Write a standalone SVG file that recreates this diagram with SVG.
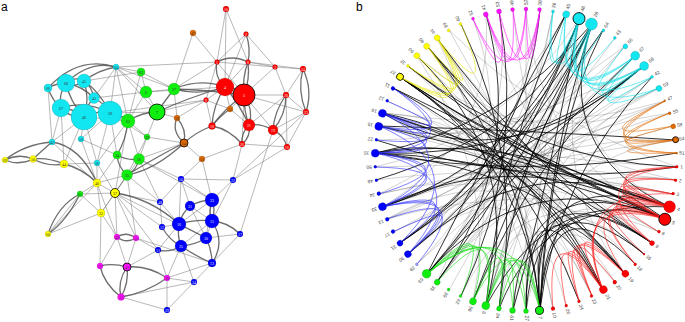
<svg xmlns="http://www.w3.org/2000/svg" width="685" height="322" viewBox="0 0 685 322">
<style>
.e path{fill:none;stroke:#7d7d7d;stroke-width:.55}
.t path{fill:none;stroke:#555;stroke-width:1.3;opacity:.85}
.k{fill:none;stroke:#000;stroke-width:1;opacity:.8}
.kl{fill:none;stroke:#000;stroke-width:.5;opacity:.35}
.q path{fill:none;stroke-width:.8;opacity:.75}
.cy{fill:#12e6f0}.gr{fill:#10ee10}.ye{fill:#ffff00}.mg{fill:#ff10ff}.or{fill:#e06a00}.rd{fill:#ff0000}.bl{fill:#0000ff}.lbl{fill:#9a9aff}
circle{stroke:#000;stroke-opacity:.3;stroke-width:.4}
.ol{stroke-opacity:1;stroke-width:.8}
.la{font-family:"Liberation Serif",serif;font-size:4px;fill:#333;text-anchor:middle;dominant-baseline:central}
.lw{fill:#eee}
.lb{font-family:"Liberation Sans",Arial,sans-serif;font-size:4.8px;fill:#444;dominant-baseline:central}
.pl{font-family:"Liberation Sans",Arial,sans-serif;font-size:12px;fill:#000}
</style>
<rect width="685" height="322" fill="#fff"/>
<text class="pl" x="1" y="11">a</text>
<text class="pl" x="356" y="11">b</text>

<g id="a-edges">
<g class="e">
<path d="M116,67L141,72"/><path d="M116,67L146,92"/><path d="M116,67L110,113"/><path d="M116,67L94,98"/><path d="M116,67L128,121"/><path d="M116,67L157,112"/><path d="M84,81L141,72"/><path d="M116,67L217,62"/><path d="M116,67L174,89"/><path d="M110,113L147,137"/><path d="M110,113L117,155"/><path d="M110,113L157,112"/><path d="M84,117L128,121"/><path d="M94,98L146,92"/><path d="M81,139L117,155"/><path d="M81,139L110,113"/><path d="M81,139L84,117"/><path d="M52,142L61,108"/><path d="M52,142L84,117"/><path d="M81,139L97,183"/><path d="M97,163L84,117"/><path d="M97,163L110,113"/><path d="M97,163L128,121"/><path d="M97,163L97,183"/><path d="M97,163L64,164"/><path d="M97,163L115,193"/><path d="M48,88L52,142"/><path d="M61,108L64,164"/><path d="M141,72L146,92"/><path d="M146,92L157,112"/><path d="M146,92L174,89"/><path d="M141,72L174,89"/><path d="M157,112L147,137"/><path d="M128,121L147,137"/><path d="M128,121L139,159"/><path d="M147,137L139,159"/><path d="M147,137L127,175"/><path d="M141,72L128,121"/><path d="M146,92L128,121"/><path d="M97,183L115,193"/><path d="M97,183L101,213"/><path d="M115,193L101,213"/><path d="M48,234L101,213"/><path d="M48,234L97,183"/><path d="M80,194L97,183"/><path d="M80,194L115,193"/><path d="M80,194L101,213"/><path d="M115,193L128,121"/><path d="M115,193L139,159"/><path d="M115,193L127,175"/><path d="M97,183L127,175"/><path d="M97,183L117,155"/><path d="M101,213L127,175"/><path d="M193,33L174,89"/><path d="M193,33L217,62"/><path d="M226,9L217,62"/><path d="M226,9L248,62"/><path d="M226,9L225,87"/><path d="M246,34L217,62"/><path d="M246,34L225,87"/><path d="M246,34L275,67"/><path d="M217,62L206,100"/><path d="M217,62L244,95"/><path d="M217,62L174,89"/><path d="M217,62L275,67"/><path d="M248,62L275,67"/><path d="M248,62L303,69"/><path d="M248,62L225,87"/><path d="M275,67L303,69"/><path d="M275,67L286,95"/><path d="M275,67L244,95"/><path d="M303,69L286,95"/><path d="M286,95L306,112"/><path d="M286,95L244,95"/><path d="M286,95L287,147"/><path d="M286,95L249,125"/><path d="M306,112L273,130"/><path d="M306,112L287,147"/><path d="M306,112L244,95"/><path d="M225,87L206,100"/><path d="M225,87L230,109"/><path d="M244,95L230,109"/><path d="M244,95L242,144"/><path d="M244,95L273,130"/><path d="M206,100L212,126"/><path d="M206,100L177,118"/><path d="M206,100L230,109"/><path d="M230,109L249,125"/><path d="M242,144L287,147"/><path d="M174,89L177,118"/><path d="M157,112L177,118"/><path d="M157,112L206,100"/><path d="M146,92L225,87"/><path d="M110,113L206,100"/><path d="M184,143L202,159"/><path d="M184,143L139,159"/><path d="M184,143L147,137"/><path d="M202,159L181,179"/><path d="M202,159L212,200"/><path d="M202,159L242,144"/><path d="M242,144L233,180"/><path d="M287,147L233,180"/><path d="M306,112L233,180"/><path d="M273,130L240,234"/><path d="M233,180L212,221"/><path d="M233,180L212,200"/><path d="M233,180L181,179"/><path d="M181,179L190,206"/><path d="M181,179L160,202"/><path d="M181,179L212,200"/><path d="M181,179L179,224"/><path d="M160,202L179,224"/><path d="M160,202L162,227"/><path d="M162,227L179,224"/><path d="M158,250L179,224"/><path d="M190,206L212,221"/><path d="M190,206L206,238"/><path d="M212,200L179,224"/><path d="M212,200L206,238"/><path d="M212,221L206,238"/><path d="M212,221L181,246"/><path d="M206,238L240,234"/><path d="M212,263L240,234"/><path d="M212,263L194,282"/><path d="M194,282L181,246"/><path d="M194,282L167,310"/><path d="M167,310L121,297"/><path d="M167,310L167,278"/><path d="M167,278L194,282"/><path d="M167,278L158,250"/><path d="M167,278L181,246"/><path d="M167,278L212,263"/><path d="M160,202L115,193"/><path d="M160,202L127,175"/><path d="M162,227L115,193"/><path d="M160,202L139,159"/><path d="M181,179L139,159"/><path d="M115,193L158,250"/><path d="M115,193L206,238"/><path d="M117,237L115,193"/><path d="M136,238L115,193"/><path d="M117,237L97,183"/><path d="M136,238L158,250"/><path d="M136,238L127,175"/><path d="M100,266L101,213"/><path d="M100,266L117,237"/><path d="M117,237L127,267"/><path d="M136,238L127,267"/><path d="M127,267L158,250"/><path d="M101,213L117,237"/><path d="M52,142L97,183"/><path d="M64,164L84,117"/><path d="M136,238L212,263"/><path d="M121,297L194,282"/><path d="M139,159L212,200"/><path d="M48,234L80,194"/>
</g>
<g class="t">
<path d="M66,83Q75,76 84,81"/><path d="M66,83Q75,88 84,81"/><path d="M66,83Q82,86 94,98"/><path d="M66,83Q58,95 61,108"/><path d="M66,83Q70,102 84,117"/><path d="M84,81Q92,87 94,98"/><path d="M84,81Q90,99 84,117"/><path d="M84,81Q100,92 110,113"/><path d="M94,98Q86,106 84,117"/><path d="M94,98Q104,103 110,113"/><path d="M61,108Q72,108 84,117"/><path d="M61,108Q70,118 84,117"/><path d="M84,117Q97,110 110,113"/><path d="M48,88Q57,83 66,83"/><path d="M48,88Q52,100 61,108"/><path d="M48,88Q78,55 116,67"/><path d="M66,83Q90,60 116,67"/><path d="M61,108Q85,100 110,113"/><path d="M116,67Q98,70 84,81"/><path d="M110,113Q120,114 128,121"/>
<path d="M157,112Q168,97 174,89"/><path d="M128,121Q142,112 157,112"/><path d="M174,89Q200,78 225,87"/><path d="M174,89Q200,96 225,87"/><path d="M174,89Q210,90 244,95"/><path d="M157,112Q190,97 225,87"/><path d="M117,155Q128,161 139,159"/><path d="M117,155Q118,167 127,175"/><path d="M139,159Q137,170 127,175"/><path d="M128,121Q126,140 117,155"/>
<path d="M5,160Q19,153 33,159"/><path d="M5,160Q19,166 33,159"/><path d="M5,160Q25,144 52,142"/><path d="M33,159Q48,157 64,164"/><path d="M33,159Q48,167 64,164"/><path d="M64,164Q82,168 97,183"/><path d="M52,142Q80,146 97,183"/><path d="M80,194Q58,205 48,234"/><path d="M80,194Q66,222 48,234"/><path d="M33,159Q45,148 52,142"/>
<path d="M117,237Q126,231 136,238"/><path d="M117,237Q126,244 136,238"/><path d="M100,266Q113,263 127,267"/><path d="M127,267Q117,282 121,297"/><path d="M127,267Q129,283 121,297"/><path d="M127,267Q148,265 167,278"/><path d="M121,297Q146,293 167,278"/><path d="M100,266Q104,284 121,297"/>
<path d="M190,206Q182,213 179,224"/><path d="M212,200Q216,210 212,221"/><path d="M212,200Q208,211 212,221"/><path d="M179,224Q177,236 181,246"/><path d="M179,224Q196,219 212,221"/><path d="M181,246Q195,245 206,238"/><path d="M212,221Q226,243 212,263"/><path d="M206,238Q212,250 212,263"/><path d="M240,234Q228,222 212,221"/><path d="M190,206Q201,200 212,200"/><path d="M162,227Q169,240 181,246"/><path d="M158,250Q170,253 181,246"/><path d="M115,193Q150,198 179,224"/><path d="M181,246Q197,257 212,263"/><path d="M179,224Q195,232 206,238"/>
<path d="M225,87Q235,87 244,95"/><path d="M248,62Q250,80 244,95"/><path d="M248,62Q242,78 244,95"/><path d="M246,34Q251,48 248,62"/><path d="M217,62Q214,77 225,87"/><path d="M217,62Q232,54 248,62"/><path d="M244,95Q254,110 249,125"/><path d="M244,95Q244,112 249,125"/><path d="M249,125Q251,137 242,144"/><path d="M249,125Q241,133 242,144"/><path d="M249,125Q261,123 273,130"/><path d="M273,130Q284,135 287,147"/><path d="M286,95Q274,112 273,130"/><path d="M286,95Q286,115 273,130"/><path d="M303,69Q297,90 306,112"/><path d="M303,69Q313,90 306,112"/><path d="M225,87Q213,105 212,126"/><path d="M244,95Q225,108 212,126"/><path d="M212,126Q229,129 242,144"/><path d="M225,87Q240,105 249,125"/><path d="M230,109Q220,116 212,126"/>
<path d="M177,118Q171,131 184,143"/><path d="M177,118Q187,129 184,143"/><path d="M184,143Q160,155 127,175"/><path d="M184,143Q155,170 127,175"/><path d="M212,126Q196,132 184,143"/>
</g>
</g>

<g id="a-nodes">
<g id="a64"><circle class="cy" cx="116" cy="67" r="3"/><text class="la" x="116" y="67">64</text></g>
<g id="a68"><circle class="cy" cx="66" cy="83" r="9"/><text class="la" x="66" y="83">68</text></g>
<g id="a45"><circle class="cy" cx="84" cy="81" r="7"/><text class="la" x="84" y="81">45</text></g>
<g id="a66"><circle class="cy" cx="48" cy="88" r="4"/><text class="la" x="48" y="88">66</text></g>
<g id="a43"><circle class="cy" cx="94" cy="98" r="5.5"/><text class="la" x="94" y="98">43</text></g>
<g id="a67"><circle class="cy" cx="61" cy="108" r="9"/><text class="la" x="61" y="108">67</text></g>
<g id="a46"><circle class="cy" cx="84" cy="117" r="13"/><text class="la" x="84" y="117">46</text></g>
<g id="a28"><circle class="cy" cx="110" cy="113" r="12"/><text class="la" x="110" y="113">28</text></g>
<g id="a59"><circle class="cy" cx="81" cy="139" r="3"/><text class="la" x="81" y="139">59</text></g>
<g id="a42"><circle class="cy" cx="52" cy="142" r="3"/><text class="la" x="52" y="142">42</text></g>
<g id="a36"><circle class="cy" cx="97" cy="163" r="3"/><text class="la" x="97" y="163">36</text></g>
<g id="a62"><circle class="gr" cx="141" cy="72" r="4"/><text class="la" x="141" y="72">62</text></g>
<g id="a6"><circle class="gr" cx="146" cy="92" r="6"/><text class="la" x="146" y="92">6</text></g>
<g id="a7"><circle class="gr ol" cx="157" cy="112" r="8"/><text class="la" x="157" y="112">7</text></g>
<g id="a63"><circle class="gr" cx="128" cy="121" r="7"/><text class="la" x="128" y="121">63</text></g>
<g id="a39"><circle class="gr" cx="147" cy="137" r="3"/><text class="la" x="147" y="137">39</text></g>
<g id="a34"><circle class="gr" cx="117" cy="155" r="4"/><text class="la" x="117" y="155">34</text></g>
<g id="a56"><circle class="gr" cx="139" cy="159" r="5.5"/><text class="la" x="139" y="159">56</text></g>
<g id="a35"><circle class="gr" cx="127" cy="175" r="5.5"/><text class="la" x="127" y="175">35</text></g>
<g id="a61"><circle class="gr" cx="80" cy="194" r="3"/><text class="la" x="80" y="194">61</text></g>
<g id="a27"><circle class="gr" cx="174" cy="89" r="6"/><text class="la" x="174" y="89">27</text></g>
<g id="a69"><circle class="ye" cx="5" cy="160" r="3"/><text class="la" x="5" y="160">69</text></g>
<g id="a50"><circle class="ye" cx="33" cy="159" r="3.5"/><text class="la" x="33" y="159">50</text></g>
<g id="a44"><circle class="ye" cx="64" cy="164" r="4"/><text class="la" x="64" y="164">44</text></g>
<g id="a40"><circle class="ye" cx="97" cy="183" r="4"/><text class="la" x="97" y="183">40</text></g>
<g id="a37"><circle class="ye ol" cx="115" cy="193" r="4.5"/><text class="la" x="115" y="193">37</text></g>
<g id="a32"><circle class="ye" cx="101" cy="213" r="4"/><text class="la" x="101" y="213">32</text></g>
<g id="a60"><circle class="ye" cx="48" cy="234" r="3"/><text class="la" x="48" y="234">60</text></g>
<g id="a49"><circle class="mg" cx="117" cy="237" r="3"/><text class="la" x="117" y="237">49</text></g>
<g id="a52"><circle class="mg" cx="136" cy="238" r="3"/><text class="la" x="136" y="238">52</text></g>
<g id="a57"><circle class="mg" cx="100" cy="266" r="3"/><text class="la" x="100" y="266">57</text></g>
<g id="a41"><circle class="mg ol" cx="127" cy="267" r="4"/><text class="la" x="127" y="267">41</text></g>
<g id="a38"><circle class="mg" cx="167" cy="278" r="3"/><text class="la" x="167" y="278">38</text></g>
<g id="a53"><circle class="mg" cx="121" cy="297" r="3.5"/><text class="la" x="121" y="297">53</text></g>
<g id="a47"><circle class="or" cx="193" cy="33" r="3"/><text class="la" x="193" y="33">47</text></g>
<g id="a55"><circle class="or" cx="230" cy="109" r="3"/><text class="la" x="230" y="109">55</text></g>
<g id="a58"><circle class="or" cx="177" cy="118" r="3"/><text class="la" x="177" y="118">58</text></g>
<g id="a54"><circle class="or ol" cx="184" cy="143" r="4"/><text class="la" x="184" y="143">54</text></g>
<g id="a51"><circle class="or" cx="202" cy="159" r="3"/><text class="la" x="202" y="159">51</text></g>
<g id="a10"><circle class="rd" cx="226" cy="9" r="3"/><text class="la lw" x="226" y="9">10</text></g>
<g id="a2"><circle class="rd" cx="246" cy="34" r="2.5"/><text class="la lw" x="246" y="34">2</text></g>
<g id="a1"><circle class="rd" cx="217" cy="62" r="2.5"/><text class="la lw" x="217" y="62">1</text></g>
<g id="a8"><circle class="rd" cx="248" cy="62" r="2.5"/><text class="la lw" x="248" y="62">8</text></g>
<g id="a3"><circle class="rd" cx="275" cy="67" r="2.5"/><text class="la lw" x="275" y="67">3</text></g>
<g id="a24"><circle class="rd" cx="303" cy="69" r="3"/><text class="la lw" x="303" y="69">24</text></g>
<g id="a4"><circle class="rd" cx="225" cy="87" r="9"/><text class="la lw" x="225" y="87">4</text></g>
<g id="a5"><circle class="rd ol" cx="244" cy="95" r="11"/><text class="la lw" x="244" y="95">5</text></g>
<g id="a20"><circle class="rd" cx="286" cy="95" r="3"/><text class="la lw" x="286" y="95">20</text></g>
<g id="a9"><circle class="rd" cx="206" cy="100" r="2.5"/><text class="la lw" x="206" y="100">9</text></g>
<g id="a23"><circle class="rd" cx="306" cy="112" r="3"/><text class="la lw" x="306" y="112">23</text></g>
<g id="a18"><circle class="rd" cx="212" cy="126" r="3.5"/><text class="la lw" x="212" y="126">18</text></g>
<g id="a21"><circle class="rd" cx="249" cy="125" r="6"/><text class="la lw" x="249" y="125">21</text></g>
<g id="a19"><circle class="rd" cx="273" cy="130" r="5"/><text class="la lw" x="273" y="130">19</text></g>
<g id="a26"><circle class="rd" cx="242" cy="144" r="3"/><text class="la lw" x="242" y="144">26</text></g>
<g id="a16r"><circle class="rd" cx="287" cy="147" r="3"/><text class="la lw" x="287" y="147">16</text></g>
<g id="a48"><circle class="bl" cx="160" cy="202" r="3"/><text class="la lw" x="160" y="202">48</text></g>
<g id="a12"><circle class="bl" cx="162" cy="227" r="3"/><text class="la lw" x="162" y="227">12</text></g>
<g id="a11"><circle class="bl" cx="158" cy="250" r="3"/><text class="la lw" x="158" y="250">11</text></g>
<g id="a50b"><circle class="bl" cx="181" cy="179" r="3"/><text class="la lw" x="181" y="179">50</text></g>
<g id="a22"><circle class="bl" cx="233" cy="180" r="3"/><text class="la lw" x="233" y="180">22</text></g>
<g id="a31"><circle class="bl" cx="190" cy="206" r="5"/><text class="la lw" x="190" y="206">31</text></g>
<g id="a33"><circle class="bl" cx="212" cy="200" r="7"/><text class="la lw" x="212" y="200">33</text></g>
<g id="a16"><circle class="bl" cx="179" cy="224" r="7"/><text class="la lw" x="179" y="224">16</text></g>
<g id="a15"><circle class="bl" cx="212" cy="221" r="7"/><text class="la lw" x="212" y="221">15</text></g>
<g id="a30"><circle class="bl" cx="206" cy="238" r="6"/><text class="la lw" x="206" y="238">30</text></g>
<g id="a17"><circle class="bl" cx="240" cy="234" r="3"/><text class="la lw" x="240" y="234">17</text></g>
<g id="a35b"><circle class="bl" cx="181" cy="246" r="6"/><text class="la lw" x="181" y="246">35</text></g>
<g id="a13"><circle class="bl" cx="212" cy="263" r="4"/><text class="la lw" x="212" y="263">13</text></g>
<g id="a34b"><circle class="bl" cx="194" cy="282" r="3"/><text class="la lw" x="194" y="282">34</text></g>
<g id="a29"><circle class="bl" cx="167" cy="310" r="3"/><text class="la lw" x="167" y="310">29</text></g>
</g>

<g id="b-edges">
<path class="k" d="M579,19Q526,160 382,207"/><path class="k" d="M579,19Q526,160 427,274"/><path class="k" d="M592,24Q526,160 437,282"/><path class="k" d="M592,24Q500,130 375,153"/><path class="k" d="M592,24Q545,170 540,310"/><path class="kl" d="M579,19Q560,150 670,207"/><path class="k" d="M635,56Q526,160 427,274"/><path class="k" d="M644,66Q505,185 382,113"/><path class="kl" d="M635,56Q526,160 400,243"/><path class="k" d="M566,14Q500,150 486,306"/><path class="kl" d="M553,11Q526,160 408,254"/><path class="k" d="M603,30Q510,150 499,309"/><path class="kl" d="M615,38Q526,160 427,274"/><path class="kl" d="M625,46Q526,160 379,126"/><path class="kl" d="M652,77Q526,160 417,264"/><path class="kl" d="M659,88Q526,160 437,282"/><path class="k" d="M592,24Q550,150 670,207"/><path class="kl" d="M592,24Q540,170 625,274"/><path class="kl" d="M579,19Q526,160 486,306"/><path class="k" d="M644,66Q526,160 382,207"/>
<path class="k" d="M670,207Q526,160 400,77"/><path class="k" d="M665,219Q526,160 408,66"/><path class="k" d="M665,219Q540,130 375,153"/><path class="k" d="M670,207Q526,160 379,126"/><path class="k" d="M670,207Q526,160 540,310"/><path class="k" d="M665,219Q526,160 427,274"/><path class="k" d="M625,274Q526,160 540,310"/><path class="k" d="M603,290Q526,160 526,311"/><path class="k" d="M603,290Q526,140 382,113"/><path class="k" d="M652,243Q526,160 427,46"/><path class="kl" d="M644,254Q526,160 540,310"/><path class="kl" d="M635,264Q526,140 382,207"/><path class="k" d="M625,274Q526,160 393,88"/><path class="k" d="M677,167Q526,190 376,140"/><path class="kl" d="M676,180Q526,160 375,167"/><path class="kl" d="M673,194Q526,160 379,194"/><path class="kl" d="M659,232Q526,160 437,38"/><path class="kl" d="M592,296Q526,160 513,310"/><path class="k" d="M579,301Q526,160 400,77"/><path class="kl" d="M553,309Q526,160 486,306"/><path class="kl" d="M566,306Q526,140 408,254"/><path class="kl" d="M615,282Q526,140 387,219"/>
<path class="k" d="M676,140Q526,130 379,126"/><path class="kl" d="M673,126Q526,160 437,282"/><path class="kl" d="M670,113Q526,160 382,207"/><path class="kl" d="M665,101Q526,160 408,66"/><path class="k" d="M677,153Q526,180 375,153"/><path class="kl" d="M676,140Q526,160 540,310"/>
<path class="k" d="M540,310Q526,160 400,77"/><path class="k" d="M540,310Q526,160 427,46"/><path class="kl" d="M540,310Q526,160 437,38"/><path class="k" d="M486,306Q526,160 417,56"/><path class="k" d="M473,301Q526,160 592,24"/><path class="kl" d="M499,309Q526,160 635,56"/><path class="kl" d="M437,282Q526,160 676,180"/><path class="k" d="M513,310Q526,160 665,219"/><path class="k" d="M526,311Q526,160 652,243"/><path class="kl" d="M461,296Q526,160 408,66"/><path class="kl" d="M449,290Q526,160 553,11"/>
<path class="k" d="M382,207Q526,140 665,219"/><path class="k" d="M382,113Q526,160 652,243"/><path class="k" d="M408,254Q526,140 670,207"/><path class="k" d="M400,243Q526,160 592,24"/><path class="kl" d="M379,194Q526,160 676,140"/><path class="kl" d="M387,101Q526,160 625,274"/><path class="kl" d="M393,88Q526,160 553,309"/><path class="kl" d="M387,219Q526,160 652,77"/><path class="k" d="M375,153Q526,160 644,66"/><path class="kl" d="M376,180Q526,160 673,194"/><path class="kl" d="M393,232Q526,160 665,101"/>
<path class="k" d="M400,77Q526,160 665,219"/><path class="k" d="M400,77Q526,160 603,290"/><path class="k" d="M427,46Q526,160 625,274"/><path class="k" d="M437,38Q526,160 644,254"/><path class="kl" d="M417,56Q526,160 592,296"/><path class="k" d="M408,66Q526,160 677,167"/><path class="kl" d="M449,30Q526,160 579,301"/><path class="k" d="M461,24Q526,160 499,309"/><path class="kl" d="M427,46Q526,160 486,306"/>
<path class="k" d="M486,14Q526,160 437,282"/><path class="k" d="M499,11Q526,160 461,296"/><path class="kl" d="M526,9Q526,160 526,311"/><path class="k" d="M540,10Q526,160 400,243"/><path class="kl" d="M513,10Q526,160 603,290"/><path class="kl" d="M473,19Q526,160 417,264"/><path class="kl" d="M486,14Q526,160 652,243"/>
<path class="k" d="M382,113Q526,160 670,207"/><path class="k" d="M375,153Q526,160 665,219"/><path class="kl" d="M379,126Q526,160 677,167"/><path class="kl" d="M400,243Q526,160 644,66"/><path class="k" d="M408,254Q526,160 579,19"/><path class="kl" d="M382,207Q526,160 592,24"/><path class="kl" d="M427,274Q526,160 603,30"/><path class="kl" d="M437,282Q526,160 644,66"/><path class="kl" d="M540,310Q540,120 382,113"/><path class="kl" d="M540,310Q526,160 579,19"/><path class="kl" d="M486,306Q526,160 592,24"/><path class="kl" d="M400,77Q526,160 670,207"/><path class="kl" d="M437,38Q526,160 603,290"/>
<path class="kl" d="M579,19Q500,140 375,167"/><path class="k" d="M579,19Q550,180 513,310"/><path class="k" d="M592,24Q500,170 400,243"/><path class="kl" d="M592,24Q520,175 387,219"/><path class="k" d="M579,19Q540,130 376,180"/><path class="kl" d="M635,56Q505,185 393,232"/><path class="kl" d="M644,66Q500,140 376,140"/><path class="kl" d="M625,46Q526,160 486,306"/><path class="kl" d="M566,14Q495,140 379,194"/><path class="kl" d="M670,207Q505,185 387,219"/><path class="k" d="M665,219Q500,140 393,88"/><path class="k" d="M665,219Q555,180 486,306"/><path class="k" d="M670,207Q540,200 499,309"/><path class="k" d="M603,290Q526,120 375,153"/><path class="kl" d="M603,290Q510,150 400,77"/><path class="kl" d="M625,274Q505,140 379,126"/><path class="kl" d="M652,243Q526,130 408,254"/><path class="kl" d="M659,232Q520,170 461,296"/><path class="kl" d="M676,180Q530,150 417,56"/><path class="kl" d="M677,167Q540,120 449,30"/><path class="k" d="M540,310Q550,135 603,30"/><path class="k" d="M540,310Q555,180 652,77"/><path class="k" d="M427,274Q495,140 566,14"/><path class="kl" d="M437,282Q500,130 625,46"/><path class="kl" d="M486,306Q550,135 659,88"/><path class="k" d="M473,301Q540,140 644,66"/><path class="kl" d="M382,113Q550,135 665,101"/><path class="kl" d="M379,126Q555,180 673,194"/><path class="k" d="M375,153Q550,170 625,274"/><path class="kl" d="M382,207Q555,135 676,140"/><path class="kl" d="M400,243Q540,130 670,113"/><path class="kl" d="M408,254Q550,135 659,88"/><path class="kl" d="M400,77Q555,180 652,243"/><path class="kl" d="M427,46Q540,200 615,282"/><path class="kl" d="M437,38Q505,185 540,310"/><path class="kl" d="M417,56Q500,180 473,301"/><path class="kl" d="M486,14Q495,140 382,207"/><path class="kl" d="M499,11Q520,150 408,254"/><path class="kl" d="M540,10Q505,185 427,274"/><path class="kl" d="M526,9Q540,160 665,219"/>
<path class="k" d="M540,310Q545,165 652,243"/><path class="k" d="M540,310Q548,175 635,264"/><path class="k" d="M526,311Q540,170 644,254"/><path class="kl" d="M513,310Q545,160 659,232"/><path class="kl" d="M526,311Q550,180 625,274"/>
<g class="q" stroke="#12e0ea">
<path d="M579,19Q546.8,111.6 592,24"/><path d="M579,19Q554.3,117.1 635,56"/><path d="M579,19Q555.9,118.9 644,66"/><path d="M592,24Q556.6,118 635,56"/><path d="M592,24Q558.2,119.8 644,66"/><path d="M566,14Q542.3,109.8 579,19"/><path d="M566,14Q553.6,118 644,66"/><path d="M553,11Q542.3,110.2 592,24"/><path d="M635,56Q565.7,125.4 644,66"/><path d="M625,46Q564,123.6 644,66"/><path d="M615,38Q550.8,114 579,19"/><path d="M603,30Q551,113.5 592,24"/><path d="M652,77Q557.3,120.8 579,19"/><path d="M659,88Q560.8,123.6 592,24"/><path d="M659,88Q568.3,129.2 635,56"/><path d="M652,77Q568.7,129 644,66"/><path d="M566,14Q552.1,116.3 635,56"/><path d="M553,11Q540,109.3 579,19"/>
</g>
<g class="q" stroke="#e06a00">
<path d="M665,101Q576.5,146.2 676,140"/><path d="M665,101Q576,143.7 673,126"/><path d="M665,101Q576.7,148.5 677,153"/><path d="M670,113Q577.4,148.3 676,140"/><path d="M673,126Q577.9,150.6 676,140"/><path d="M676,140Q578.6,155.3 677,153"/><path d="M670,113Q577.6,150.6 677,153"/>
</g>
<g class="q" stroke="#ff1a1a">
<path d="M677,167Q577.6,169.4 670,207"/><path d="M677,167Q576.7,171.5 665,219"/><path d="M676,180Q577.4,171.7 670,207"/><path d="M676,180Q576.5,173.8 665,219"/><path d="M673,194Q576,176.3 665,219"/><path d="M673,194Q576.9,174.2 670,207"/><path d="M670,207Q575.5,178.5 665,219"/><path d="M670,207Q573.2,182.7 652,243"/><path d="M665,219Q572.3,184.8 652,243"/><path d="M670,207Q564.7,191 603,290"/><path d="M665,219Q563.8,193.1 603,290"/><path d="M665,219Q567.6,190.3 625,274"/><path d="M670,207Q570.2,186.4 635,264"/><path d="M603,290Q556.8,202.7 625,274"/><path d="M603,290Q548.7,207.4 579,301"/><path d="M603,290Q546.5,208.3 566,306"/><path d="M603,290Q544.2,208.8 553,309"/><path d="M625,274Q554.9,203.7 592,296"/><path d="M625,274Q552.6,204.6 579,301"/><path d="M615,282Q553.1,205.1 592,296"/><path d="M603,290Q551,206.5 592,296"/><path d="M644,254Q571,186.8 665,219"/><path d="M659,232Q574.4,180.8 670,207"/><path d="M635,264Q569.4,188.5 665,219"/><path d="M677,167Q574.4,175.7 652,243"/><path d="M673,194Q565.2,188.7 603,290"/>
</g>
<g class="q" stroke="#10dd10">
<path d="M540,310Q511.1,206.2 427,274"/><path d="M540,310Q521.5,211.8 486,306"/><path d="M486,306Q501.7,205.5 427,274"/><path d="M486,306Q503.4,206.9 437,282"/><path d="M513,310Q506.4,206.2 427,274"/><path d="M526,311Q519,212 486,306"/><path d="M499,309Q512,210.7 473,301"/><path d="M473,301Q499.4,204.6 427,274"/><path d="M540,310Q519.2,210.9 473,301"/><path d="M526,311Q508.7,206.3 427,274"/><path d="M513,310Q516.7,211.8 486,306"/><path d="M461,296Q497.3,203.7 427,274"/><path d="M540,310Q523.7,212.3 499,309"/>
</g>
<g class="q" stroke="#2a2aff">
<path d="M375,153Q474.4,150.6 382,113"/><path d="M379,126Q475.1,145.8 382,113"/><path d="M375,153Q473.9,152.8 379,126"/><path d="M382,207Q474.4,167 375,153"/><path d="M382,207Q475.6,160 382,113"/><path d="M408,254Q480.2,184.7 382,207"/><path d="M408,254Q479,175.2 375,153"/><path d="M400,243Q478.8,182.7 382,207"/><path d="M400,243Q478.3,168.6 379,126"/><path d="M393,88Q477,141.5 379,126"/><path d="M393,88Q476.3,146.2 375,153"/><path d="M387,101Q476.5,141.5 382,113"/><path d="M387,219Q481,186.8 408,254"/><path d="M417,264Q481.7,186.4 382,207"/><path d="M393,232Q482.1,189 408,254"/><path d="M379,194Q473.9,164.7 375,153"/><path d="M375,167Q474.4,169.4 382,207"/><path d="M376,140Q474.6,148.3 382,113"/>
</g>
<g class="q" stroke="#e6e600">
<path d="M400,77Q486.6,125.5 427,46"/><path d="M400,77Q488.4,124.1 437,38"/><path d="M417,56Q491.4,120.5 437,38"/><path d="M408,66Q488,123.6 427,46"/><path d="M427,46Q493.1,118.7 437,38"/><path d="M400,77Q484.9,127.3 417,56"/><path d="M437,38Q499.1,114.9 461,24"/><path d="M437,38Q489.8,122.2 408,66"/>
</g>
<g class="q" stroke="#ff10ff">
<path d="M473,19Q516.7,108.9 526,9"/><path d="M486,14Q519,108 526,9"/><path d="M486,14Q516.7,108.2 513,10"/><path d="M486,14Q521.5,108.2 540,10"/><path d="M499,11Q523.7,107.7 540,10"/><path d="M513,10Q526.2,107.5 540,10"/><path d="M473,19Q512,109.3 499,11"/><path d="M526,9Q528.4,107.4 540,10"/>
</g>
</g>

<g id="b-nodes">
<g id="b0" transform="translate(526,9) rotate(-90)"><circle class="mg" r="2"/><text class="lb" x="4">57</text></g>
<g id="b1" transform="translate(539.5,9.6) rotate(-84.86)"><circle class="mg" r="2"/><text class="lb" x="4">38</text></g>
<g id="b2" transform="translate(553,11.4) rotate(-79.71)"><circle class="cy" r="1.5"/><text class="lb" x="3.5">36</text></g>
<g id="b3" transform="translate(566.2,14.4) rotate(-74.57)"><circle class="cy" r="3.5"/><text class="lb" x="5.5">45</text></g>
<g id="b4" transform="translate(579,18.6) rotate(-69.43)"><circle class="cy ol" r="6"/><text class="lb" x="8">46</text></g>
<g id="b5" transform="translate(591.5,24) rotate(-64.29)"><circle class="cy" r="6"/><text class="lb" x="8">28</text></g>
<g id="b6" transform="translate(603.4,30.4) rotate(-59.14)"><circle class="cy" r="1.5"/><text class="lb" x="3.5">64</text></g>
<g id="b7" transform="translate(614.8,37.8) rotate(-54)"><circle class="cy" r="1.5"/><text class="lb" x="3.5">43</text></g>
<g id="b8" transform="translate(625.4,46.3) rotate(-48.86)"><circle class="cy" r="2.5"/><text class="lb" x="4.5">66</text></g>
<g id="b9" transform="translate(635.2,55.7) rotate(-43.71)"><circle class="cy" r="4.5"/><text class="lb" x="6.5">67</text></g>
<g id="b10" transform="translate(644.1,65.9) rotate(-38.57)"><circle class="cy" r="4.5"/><text class="lb" x="6.5">68</text></g>
<g id="b11" transform="translate(652,76.8) rotate(-33.43)"><circle class="cy" r="1.5"/><text class="lb" x="3.5">42</text></g>
<g id="b12" transform="translate(659,88.4) rotate(-28.29)"><circle class="cy" r="3"/><text class="lb" x="5">59</text></g>
<g id="b13" transform="translate(664.8,100.7) rotate(-23.14)"><circle class="or" r="1"/><text class="lb" x="3">47</text></g>
<g id="b14" transform="translate(669.6,113.3) rotate(-18)"><circle class="or" r="1.5"/><text class="lb" x="3.5">55</text></g>
<g id="b15" transform="translate(673.2,126.4) rotate(-12.86)"><circle class="or" r="2.5"/><text class="lb" x="4">58</text></g>
<g id="b16" transform="translate(675.6,139.7) rotate(-7.71)"><circle class="or ol" r="3"/><text class="lb" x="3.6">54</text></g>
<g id="b17" transform="translate(676.8,153.2) rotate(-2.57)"><circle class="or" r="1"/><text class="lb" x="2.5">51</text></g>
<g id="b18" transform="translate(676.8,166.8) rotate(2.57)"><circle class="rd" r="1.5"/><text class="lb" x="3.5">1</text></g>
<g id="b19" transform="translate(675.6,180.3) rotate(7.71)"><circle class="rd" r="1.5"/><text class="lb" x="3.5">2</text></g>
<g id="b20" transform="translate(673.2,193.6) rotate(12.86)"><circle class="rd" r="1.5"/><text class="lb" x="3.5">3</text></g>
<g id="b21" transform="translate(669.6,206.7) rotate(18)"><circle class="rd" r="6"/><text class="lb" x="8">4</text></g>
<g id="b22" transform="translate(664.8,219.3) rotate(23.14)"><circle class="rd ol" r="6"/><text class="lb" x="8">5</text></g>
<g id="b23" transform="translate(659,231.6) rotate(28.29)"><circle class="rd" r="1.5"/><text class="lb" x="3.5">8</text></g>
<g id="b24" transform="translate(652,243.2) rotate(33.43)"><circle class="rd" r="2.5"/><text class="lb" x="4.5">9</text></g>
<g id="b25" transform="translate(644.1,254.1) rotate(38.57)"><circle class="rd" r="1"/><text class="lb" x="3">16</text></g>
<g id="b26" transform="translate(635.2,264.3) rotate(43.71)"><circle class="rd" r="1.5"/><text class="lb" x="3.5">18</text></g>
<g id="b27" transform="translate(625.4,273.7) rotate(48.86)"><circle class="rd" r="3.5"/><text class="lb" x="5.5">19</text></g>
<g id="b28" transform="translate(614.8,282.2) rotate(54)"><circle class="rd" r="2"/><text class="lb" x="4">20</text></g>
<g id="b29" transform="translate(603.4,289.6) rotate(59.14)"><circle class="rd" r="4"/><text class="lb" x="6">21</text></g>
<g id="b30" transform="translate(591.5,296) rotate(64.29)"><circle class="rd" r="1.5"/><text class="lb" x="3.5">23</text></g>
<g id="b31" transform="translate(579,301.4) rotate(69.43)"><circle class="rd" r="1.5"/><text class="lb" x="3.5">24</text></g>
<g id="b32" transform="translate(566.2,305.6) rotate(74.57)"><circle class="rd" r="1.5"/><text class="lb" x="3.5">26</text></g>
<g id="b33" transform="translate(553,308.6) rotate(79.71)"><circle class="rd" r="2"/><text class="lb" x="4">10</text></g>
<g id="b34" transform="translate(539.5,310.4) rotate(84.86)"><circle class="gr ol" r="4"/><text class="lb" x="6">7</text></g>
<g id="b35" transform="translate(526,311) rotate(90)"><circle class="gr" r="2.5"/><text class="lb" x="4.5">27</text></g>
<g id="b36" transform="translate(512.5,310.4) rotate(95.14)"><circle class="gr" r="3"/><text class="lb" x="5">61</text></g>
<g id="b37" transform="translate(499,308.6) rotate(100.29)"><circle class="gr" r="2.5"/><text class="lb" x="4.5">34</text></g>
<g id="b38" transform="translate(485.8,305.6) rotate(105.43)"><circle class="gr" r="4"/><text class="lb" x="6">6</text></g>
<g id="b39" transform="translate(473,301.4) rotate(110.57)"><circle class="gr" r="3.5"/><text class="lb" x="5.5">56</text></g>
<g id="b40" transform="translate(460.5,296) rotate(115.71)"><circle class="gr" r="1.5"/><text class="lb" x="3.5">62</text></g>
<g id="b41" transform="translate(448.6,289.6) rotate(120.86)"><circle class="gr" r="1.5"/><text class="lb" x="3.5">39</text></g>
<g id="b42" transform="translate(437.2,282.2) rotate(126)"><circle class="gr" r="3"/><text class="lb" x="5">35</text></g>
<g id="b43" transform="translate(426.6,273.7) rotate(131.14)"><circle class="gr" r="4.5"/><text class="lb" x="6.5">63</text></g>
<g id="b44" transform="translate(416.8,264.3) rotate(136.29)"><circle class="lbl" r="1.5"/><text class="lb" x="3.5">29</text></g>
<g id="b45" transform="translate(407.9,254.1) rotate(141.43)"><circle class="bl" r="3.5"/><text class="lb" x="5.5">30</text></g>
<g id="b46" transform="translate(400,243.2) rotate(146.57)"><circle class="bl" r="3"/><text class="lb" x="5">31</text></g>
<g id="b47" transform="translate(393,231.6) rotate(151.71)"><circle class="bl" r="2"/><text class="lb" x="4">17</text></g>
<g id="b48" transform="translate(387.2,219.3) rotate(156.86)"><circle class="bl" r="2"/><text class="lb" x="4">13</text></g>
<g id="b49" transform="translate(382.4,206.7) rotate(162)"><circle class="bl" r="4"/><text class="lb" x="6">33</text></g>
<g id="b50" transform="translate(378.8,193.6) rotate(167.14)"><circle class="bl" r="2"/><text class="lb" x="4">34</text></g>
<g id="b51" transform="translate(376.4,180.3) rotate(172.29)"><circle class="bl" r="1.5"/><text class="lb" x="3.5">48</text></g>
<g id="b52" transform="translate(375.2,166.8) rotate(177.43)"><circle class="bl" r="1.5"/><text class="lb" x="3.5">50</text></g>
<g id="b53" transform="translate(375.2,153.2) rotate(182.57)"><circle class="bl" r="4"/><text class="lb" x="6">35</text></g>
<g id="b54" transform="translate(376.4,139.7) rotate(187.71)"><circle class="bl" r="1.5"/><text class="lb" x="3.5">22</text></g>
<g id="b55" transform="translate(378.8,126.4) rotate(192.86)"><circle class="bl" r="4"/><text class="lb" x="6">15</text></g>
<g id="b56" transform="translate(382.4,113.3) rotate(198)"><circle class="bl" r="4"/><text class="lb" x="6">16</text></g>
<g id="b57" transform="translate(387.2,100.7) rotate(203.14)"><circle class="bl" r="1.5"/><text class="lb" x="3.5">12</text></g>
<g id="b58" transform="translate(393,88.4) rotate(208.29)"><circle class="bl" r="2"/><text class="lb" x="4">11</text></g>
<g id="b59" transform="translate(400,76.8) rotate(213.43)"><circle class="ye ol" r="3.5"/><text class="lb" x="5.5">37</text></g>
<g id="b60" transform="translate(407.9,65.9) rotate(218.57)"><circle class="ye" r="1.5"/><text class="lb" x="3.5">32</text></g>
<g id="b61" transform="translate(416.8,55.7) rotate(223.71)"><circle class="ye" r="3"/><text class="lb" x="5">50</text></g>
<g id="b62" transform="translate(426.6,46.3) rotate(228.86)"><circle class="ye" r="3"/><text class="lb" x="5">40</text></g>
<g id="b63" transform="translate(437.2,37.8) rotate(234)"><circle class="ye" r="3"/><text class="lb" x="5">44</text></g>
<g id="b64" transform="translate(448.6,30.4) rotate(239.14)"><circle class="ye" r="1.5"/><text class="lb" x="3.5">69</text></g>
<g id="b65" transform="translate(460.5,24) rotate(244.29)"><circle class="ye" r="1.5"/><text class="lb" x="3.5">60</text></g>
<g id="b66" transform="translate(473,18.6) rotate(249.43)"><circle class="mg" r="1.5"/><text class="lb" x="3.5">52</text></g>
<g id="b67" transform="translate(485.8,14.4) rotate(254.57)"><circle class="mg" r="2.5"/><text class="lb" x="4.5">41</text></g>
<g id="b68" transform="translate(499,11.4) rotate(259.71)"><circle class="mg" r="2.5"/><text class="lb" x="4.5">53</text></g>
<g id="b69" transform="translate(512.5,9.6) rotate(264.86)"><circle class="mg" r="2"/><text class="lb" x="4">49</text></g>
</g>
</svg>
